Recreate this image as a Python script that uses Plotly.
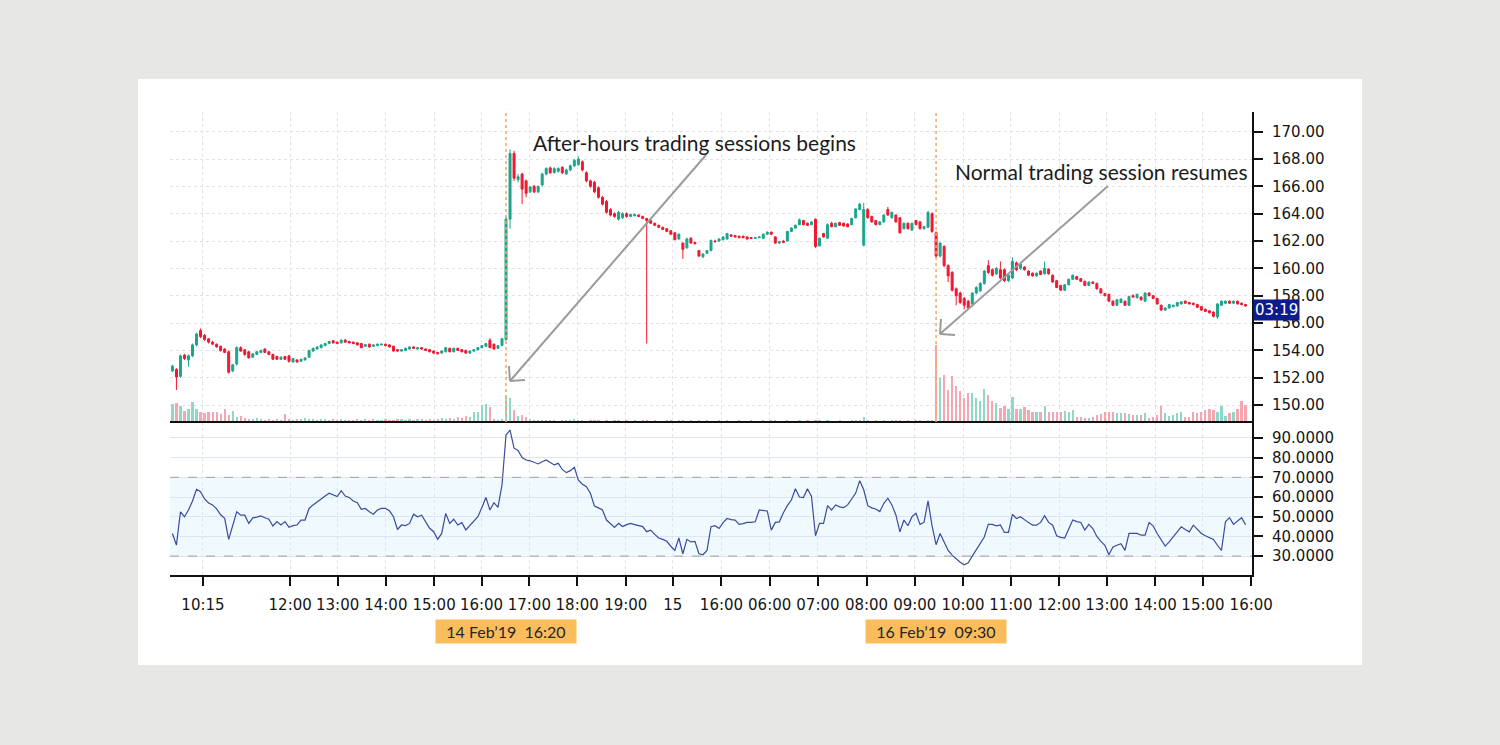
import math
import plotly.graph_objects as go

# ---------------- data ----------------
open_ = [
    152.5, 152.6, 152.1, 153.65, 153.3, 153.6, 154.4, 155.45, 155.1, 154.85,
    154.6, 154.45, 154.3, 154.1, 153.9, 152.5, 153.0, 154.2, 154.05, 153.9,
    153.5, 153.7, 153.85, 154.1, 153.9, 153.7, 153.55, 153.35, 153.55, 153.6,
    153.15, 153.3, 153.2, 153.3, 153.5, 153.95, 154.1, 154.2, 154.35, 154.5,
    154.7, 154.6, 154.55, 154.75, 154.65, 154.6, 154.55, 154.5, 154.3, 154.45,
    154.3, 154.35, 154.4, 154.45, 154.4, 154.3, 154.05, 153.95, 154.0, 154.1,
    154.25, 154.1, 154.2, 154.1, 154.05, 153.95, 153.85, 153.8, 153.9, 154.15,
    153.9, 154.15, 154.05, 154.0, 153.8, 153.95, 154.05, 154.2, 154.3, 154.75,
    154.45, 154.15, 154.35, 154.8, 163.6, 168.4, 166.5, 166.9, 166.4, 165.6,
    166.0, 165.6, 166.1, 166.9, 167.35, 167.0, 167.1, 167.4, 166.9, 167.2,
    167.5, 167.6, 167.8, 167.0, 166.4, 166.3, 165.9, 165.2, 164.9, 164.3,
    164.0, 163.6, 163.7, 164.0, 163.8, 163.85, 163.9, 163.8, 163.65, 163.5,
    163.3, 163.15, 163.0, 162.9, 162.75, 162.6, 162.15, 161.85, 161.5, 162.2,
    161.9, 161.3, 160.85, 161.1, 161.3, 162.0, 162.0, 162.1, 162.15, 162.45,
    162.4, 162.35, 162.35, 162.3, 162.25, 162.2, 162.25, 162.2, 162.5, 162.65,
    162.3, 161.85, 162.0, 162.0, 162.7, 162.95, 163.2, 163.5, 163.3, 163.2,
    163.6, 161.65, 162.55, 162.2, 163.3, 163.05, 163.35, 163.3, 163.25, 163.2,
    163.7, 164.3, 161.7, 164.3, 163.8, 163.5, 163.2, 163.4, 164.3, 163.7,
    163.9, 163.7, 162.9, 163.3, 162.8, 163.5, 163.4, 162.9, 163.0, 164.0,
    162.6, 160.9, 161.6, 160.2, 159.7, 158.5, 158.2, 157.8, 157.6, 157.4,
    158.2, 158.35, 158.9, 160.2, 159.9, 159.6, 159.9, 159.9, 159.1, 159.3,
    160.4, 160.0, 160.1, 159.8, 159.65, 159.45, 159.8, 159.6, 159.95, 159.5,
    159.1, 158.75, 158.4, 158.8, 159.2, 159.4, 159.25, 159.05, 158.75, 159.0,
    158.9, 158.5, 158.15, 158.1, 157.6, 157.3, 157.5, 157.6, 157.3, 158.0,
    157.85, 157.9, 157.6, 158.2, 158.0, 157.8, 157.3, 156.95, 157.1, 157.2,
    157.25, 157.4, 157.6, 157.5, 157.45, 157.35, 157.2, 157.0, 156.9, 156.8,
    156.45, 157.3, 157.45, 157.6, 157.45, 157.6, 157.45, 157.35,
]
high = [
    152.95, 152.7, 153.7, 153.75, 153.7, 154.5, 155.3, 155.6, 155.2, 154.9,
    154.7, 154.5, 154.35, 154.15, 154.0, 153.0, 154.3, 154.3, 154.1, 153.95,
    153.8, 153.95, 154.05, 154.15, 153.95, 153.75, 153.6, 153.55, 153.6, 153.65,
    153.45, 153.35, 153.4, 153.5, 154.05, 154.2, 154.3, 154.45, 154.55, 154.7,
    154.75, 154.65, 154.8, 154.85, 154.7, 154.65, 154.6, 154.55, 154.45, 154.5,
    154.45, 154.5, 154.5, 154.5, 154.45, 154.35, 154.1, 154.1, 154.2, 154.3,
    154.3, 154.25, 154.25, 154.15, 154.1, 154.0, 153.9, 154.0, 154.25, 154.2,
    154.2, 154.2, 154.1, 154.05, 154.0, 154.1, 154.25, 154.4, 154.55, 154.9,
    154.5, 154.4, 154.9, 163.8, 168.7, 168.6, 166.9, 167.0, 166.5, 166.0,
    166.1, 166.05, 167.0, 167.4, 167.45, 167.4, 167.4, 167.45, 167.3, 167.6,
    168.0, 168.2, 167.9, 167.1, 166.5, 166.4, 166.0, 165.3, 165.0, 164.4,
    164.1, 164.2, 164.1, 164.1, 164.0, 164.0, 163.95, 163.85, 163.7, 163.55,
    163.35, 163.2, 163.05, 162.95, 162.8, 162.65, 162.55, 161.9, 162.25, 162.3,
    161.95, 161.35, 161.1, 161.35, 162.1, 162.1, 162.2, 162.35, 162.6, 162.5,
    162.45, 162.4, 162.4, 162.35, 162.3, 162.3, 162.35, 162.55, 162.7, 162.7,
    162.35, 162.0, 162.05, 162.75, 163.0, 163.2, 163.65, 163.55, 163.35, 163.45,
    163.65, 162.25, 162.6, 163.3, 163.4, 163.35, 163.4, 163.35, 163.3, 163.7,
    164.4, 164.8, 164.8, 164.4, 163.85, 163.55, 163.45, 163.95, 164.5, 164.15,
    163.95, 163.75, 163.35, 163.35, 163.35, 163.55, 163.45, 163.1, 164.2, 164.1,
    162.7, 161.9, 161.7, 160.3, 159.8, 158.6, 158.3, 157.9, 157.7, 158.25,
    158.7, 159.0, 159.9, 160.6, 160.0, 160.1, 160.5, 160.0, 159.6, 160.8,
    160.5, 160.35, 160.15, 159.85, 159.7, 159.7, 159.85, 160.5, 160.0, 159.55,
    159.15, 158.8, 158.85, 159.25, 159.55, 159.45, 159.3, 159.1, 159.05, 159.05,
    158.95, 158.55, 158.2, 158.15, 157.65, 157.75, 157.8, 157.65, 158.0, 158.1,
    158.15, 157.95, 158.25, 158.25, 158.05, 157.85, 157.35, 157.15, 157.4, 157.35,
    157.55, 157.6, 157.65, 157.55, 157.5, 157.4, 157.25, 157.05, 156.95, 156.85,
    157.45, 157.65, 157.65, 157.65, 157.65, 157.65, 157.5, 157.4,
]
low = [
    152.4, 151.1, 152.0, 153.3, 152.8, 153.5, 154.3, 154.9, 154.7, 154.5,
    154.4, 154.2, 153.9, 153.8, 152.3, 152.4, 152.9, 153.9, 153.6, 153.4,
    153.45, 153.65, 153.8, 153.8, 153.65, 153.3, 153.3, 153.3, 153.3, 153.1,
    153.1, 153.1, 153.15, 153.25, 153.45, 153.9, 154.05, 154.15, 154.3, 154.45,
    154.5, 154.45, 154.5, 154.55, 154.5, 154.45, 154.35, 154.15, 154.25, 154.2,
    154.25, 154.3, 154.35, 154.3, 154.2, 153.9, 153.9, 153.9, 153.95, 154.05,
    154.1, 154.05, 154.05, 153.95, 153.85, 153.75, 153.7, 153.75, 153.85, 153.85,
    153.85, 153.95, 153.85, 153.75, 153.75, 153.9, 154.0, 154.15, 154.25, 154.15,
    154.05, 154.1, 154.3, 154.7, 162.9, 166.4, 166.3, 164.7, 165.2, 165.5,
    165.5, 165.5, 166.0, 166.8, 166.9, 166.95, 167.0, 166.9, 166.85, 167.1,
    167.4, 167.5, 167.1, 166.3, 165.9, 165.5, 165.1, 164.6, 164.0, 163.8,
    163.7, 163.5, 163.6, 163.7, 163.75, 163.8, 163.75, 163.6, 154.5, 163.25,
    163.1, 162.95, 162.8, 162.65, 162.45, 162.05, 162.1, 160.7, 161.45, 161.8,
    161.75, 160.85, 160.75, 161.05, 161.25, 161.9, 161.95, 162.05, 162.1, 162.3,
    162.25, 162.2, 162.2, 162.1, 162.15, 162.15, 162.2, 162.15, 162.45, 162.45,
    161.8, 161.8, 161.85, 161.95, 162.65, 162.9, 163.15, 163.15, 163.1, 163.15,
    161.5, 161.6, 162.25, 162.15, 163.0, 163.0, 163.1, 163.05, 163.0, 163.15,
    163.65, 164.25, 161.6, 163.65, 163.35, 163.15, 163.15, 163.35, 163.85, 163.65,
    163.35, 162.55, 162.85, 162.85, 162.75, 163.15, 162.85, 162.85, 162.95, 162.6,
    160.8, 160.8, 160.1, 159.0, 158.3, 157.3, 157.4, 157.0, 157.0, 157.2,
    158.1, 158.3, 158.8, 159.6, 159.4, 159.5, 159.2, 159.0, 159.0, 159.2,
    159.8, 159.9, 159.85, 159.45, 159.4, 159.4, 159.5, 159.55, 159.55, 158.95,
    158.55, 158.35, 158.35, 158.75, 159.15, 159.15, 159.0, 158.7, 158.7, 158.85,
    158.45, 158.15, 157.95, 157.55, 157.25, 157.25, 157.45, 157.25, 157.25, 157.85,
    157.8, 157.65, 157.55, 157.95, 157.75, 157.35, 156.9, 156.9, 157.05, 157.15,
    157.2, 157.35, 157.4, 157.35, 157.3, 157.1, 156.9, 156.8, 156.7, 156.4,
    156.3, 157.25, 157.4, 157.4, 157.4, 157.35, 157.3, 157.2,
]
close = [
    152.85, 152.05, 153.6, 153.4, 153.6, 154.4, 155.2, 155.0, 154.8, 154.6,
    154.45, 154.25, 154.0, 153.85, 152.4, 152.95, 154.2, 153.95, 153.7, 153.45,
    153.75, 153.9, 154.0, 153.85, 153.7, 153.35, 153.35, 153.5, 153.35, 153.2,
    153.4, 153.15, 153.35, 153.45, 154.0, 154.15, 154.25, 154.4, 154.5, 154.65,
    154.55, 154.5, 154.75, 154.6, 154.55, 154.5, 154.4, 154.2, 154.42, 154.25,
    154.4, 154.45, 154.45, 154.35, 154.25, 153.95, 153.95, 154.05, 154.15, 154.25,
    154.15, 154.2, 154.1, 154.0, 153.9, 153.8, 153.75, 153.95, 154.2, 153.9,
    154.15, 154.0, 153.9, 153.8, 153.95, 154.05, 154.2, 154.35, 154.5, 154.2,
    154.1, 154.35, 154.85, 163.6, 168.4, 166.6, 166.7, 165.8, 165.5, 165.95,
    165.6, 166.0, 166.9, 167.3, 167.0, 167.3, 167.3, 167.0, 167.2, 167.5,
    167.9, 168.0, 167.2, 166.4, 166.0, 165.6, 165.2, 164.7, 164.1, 163.9,
    163.8, 164.1, 164.0, 163.8, 163.95, 163.95, 163.8, 163.65, 163.5, 163.3,
    163.15, 163.0, 162.85, 162.7, 162.5, 162.1, 162.5, 161.4, 162.15, 161.85,
    161.8, 160.9, 161.05, 161.3, 162.05, 161.95, 162.15, 162.3, 162.55, 162.35,
    162.3, 162.25, 162.25, 162.15, 162.2, 162.25, 162.3, 162.5, 162.65, 162.5,
    161.85, 161.95, 161.9, 162.7, 162.95, 163.15, 163.55, 163.2, 163.15, 163.4,
    161.6, 162.2, 162.3, 163.2, 163.05, 163.3, 163.15, 163.1, 163.05, 163.65,
    164.35, 164.7, 164.3, 163.7, 163.4, 163.2, 163.4, 163.9, 163.9, 164.1,
    163.4, 162.6, 163.3, 162.9, 163.3, 163.2, 162.9, 163.05, 164.1, 162.7,
    160.9, 161.85, 160.2, 159.45, 158.4, 158.0, 157.5, 157.3, 157.1, 158.2,
    158.6, 158.9, 159.8, 159.7, 159.5, 160.0, 159.3, 159.1, 159.5, 160.5,
    159.9, 160.3, 159.9, 159.5, 159.45, 159.65, 159.55, 160.0, 159.6, 159.0,
    158.6, 158.4, 158.8, 159.2, 159.5, 159.2, 159.05, 158.75, 159.0, 158.9,
    158.5, 158.2, 158.0, 157.6, 157.3, 157.7, 157.75, 157.3, 157.95, 157.9,
    158.1, 157.7, 158.2, 158.0, 157.8, 157.4, 156.95, 157.1, 157.35, 157.3,
    157.5, 157.55, 157.45, 157.4, 157.35, 157.15, 156.95, 156.85, 156.75, 156.5,
    157.4, 157.6, 157.6, 157.45, 157.6, 157.4, 157.35, 157.25,
]
volume = [
    57, 60, 49, 35, 41, 63, 41, 31, 28, 30, 30, 31, 25, 41, 22, 35, 17, 20, 12,
    10, 8, 12, 9, 6, 8, 7, 10, 6, 26, 9, 7, 10, 8, 12, 9, 8, 7, 9, 10, 7, 8, 6,
    8, 6, 7, 5, 9, 6, 8, 7, 10, 6, 5, 8, 6, 7, 9, 8, 6, 10, 7, 8, 9, 6, 8, 7, 10,
    12, 9, 14, 11, 16, 12, 20, 17,
    30, 32, 54, 57, 48, 8, 6, 10, 81, 76, 38,
    20, 22, 15, 8, 6, 5, 4, 6, 5, 4, 3, 5, 4, 6, 8, 5, 4, 3, 5, 4,
    6, 3, 4, 3, 5, 4, 3, 4, 3, 5, 3, 4, 6, 3, 4, 3, 3, 4, 5, 3,
    4, 6, 3, 4, 3, 5, 3, 4, 3, 3, 4, 3, 5, 3, 3, 4, 3, 3, 4, 3,
    3, 4, 3, 5, 4, 3, 3, 4, 3, 3, 5, 3, 4, 3, 6, 4, 3, 4, 3, 3,
    4, 3, 3, 4, 5, 6, 16, 4, 3, 4, 3, 4, 3, 5, 4, 6, 3, 4, 3, 5,
    4, 3, 6, 5,
    241, 137, 147, 102, 145, 113, 97, 76, 92, 90, 76, 65, 105, 86, 65, 60, 44,
    51, 41, 79, 41, 41, 47, 38, 33, 33, 30, 49, 33, 30, 32, 33, 36, 33, 38, 17,
    15, 12, 14, 15,
    22, 26, 33, 30, 33, 27, 27, 27, 25, 22, 22, 22, 27, 12, 17, 22, 49, 28, 19,
    22, 27, 33, 17, 17, 33, 27, 30, 38, 40, 38, 33, 51, 19, 27, 33, 40, 65, 54,
]
rsi = [
    41.5, 35.6, 52.5, 50, 53.4, 58, 63.9, 62.7, 59, 57,
    56, 54, 51, 49.2, 38.5, 46, 52.5, 50.8, 50.8, 46.6,
    49.4, 49.8, 50.4, 49.5, 48.7, 45.3, 47.5, 45.8, 47.5, 44.6,
    45.5, 45.8, 48.3, 48.3, 54.2, 56, 57.6, 59, 60.5, 61.9,
    61, 60.2, 63.2, 60.5, 59.8, 58, 57.1, 53.7, 54.2, 52.5,
    51.3, 53.4, 54.2, 54.2, 53.0, 50, 43.5, 45.8, 45.5, 46.6,
    51.3, 50, 50.8, 47.5, 44.1, 42.4, 38.5, 41.5, 51.7, 46.6,
    48.7, 45.8, 47, 43.3, 45.5, 47.5, 50, 54.7, 59.8, 53.4,
    57.1, 54.7, 66.1, 91.5, 94.0, 84.8, 83.7, 80, 78.8, 78.4,
    77.5, 76.8, 77.9, 78.8, 77.5, 76.3, 77.1, 74, 72.4, 73.4,
    75.1, 68.6, 66.5, 65.2, 61.9, 55.4, 54.5, 53.4, 48.3, 46.5,
    44.6, 46.6, 45, 46, 46.6, 46, 45.5, 45, 42.4, 43.2,
    41, 39.2, 38.5, 37.5, 35, 32.9, 39.2, 31.2, 38.5, 37.2,
    37.5, 31.2, 30.7, 32.9, 44.9, 45.4, 44, 47, 49.1, 48.5,
    48.3, 46.1, 46.5, 47.1, 47.1, 47.4, 53.4, 53.2, 52.9, 43.2,
    47.1, 47.4, 52, 55.6, 58.5, 64.2, 60, 59.7, 64.2, 60.3,
    40.3, 46.6, 46.6, 55.6, 53.4, 56, 55, 54.6, 56, 59,
    62, 68.3, 63.7, 55.6, 54.5, 53.9, 52.6, 56.8, 59.4, 56,
    50.9, 42.3, 48.3, 45.4, 50, 51.7, 46.1, 47.1, 58, 45.4,
    35.8, 41.5, 37, 32.9, 30.5, 28.6, 26.9, 25.6, 26.6, 30,
    33.4, 36.8, 39.7, 46.1, 46.1, 45.4, 45.8, 42, 42, 51.2,
    49.1, 50, 48.3, 47, 45.7, 45.7, 47.1, 50.5, 47.1, 45.7,
    40.3, 39.5, 39.2, 44, 48.3, 47.5, 47.1, 43.2, 46.1, 44,
    40, 37.5, 35.5, 30.7, 34.6, 35.5, 36.3, 32.9, 41.5, 41.5,
    41.5, 40.6, 40.6, 47.1, 45.4, 41.5, 38, 35.1, 37.2, 39.7,
    42, 44.9, 43.5, 42.3, 45.7, 43.5, 41.5, 40.3, 39.5, 38.5,
    35.5, 32.9, 47.4, 49.5, 46.1, 48, 49.5, 46,
]
tick_pos = [7.6, 29.3, 41.1, 53.1, 65.1, 76.9, 88.8, 100.7, 112.8, 124.5, 136.6,
            148.6, 160.6, 172.7, 184.7, 196.7, 208.6, 220.6, 232.5, 244.5, 256.4, 268.4]
tick_text = ["10:15", "12:00", "13:00", "14:00", "15:00", "16:00", "17:00", "18:00",
             "19:00", "15", "16:00", "06:00", "07:00", "08:00", "09:00", "10:00",
             "11:00", "12:00", "13:00", "14:00", "15:00", "16:00"]
price_ticks = [150, 152, 154, 156, 158, 160, 162, 164, 166, 168, 170]
rsi_ticks = [30, 40, 50, 60, 70, 80, 90]
rsi_band = [30, 70]
session_idx = [83, 190]
session_labels = ["14 Feb\u201919  16:20", "16 Feb\u201919  09:30"]
notes = ["After-hours trading sessions begins", "Normal trading session resumes"]
clock_label = "03:19"

# ---------------- layout helpers (pixel -> paper) ----------------
L, R, T, B = 170, 1252, 112, 575
def px(x):
    return (x - L) / (R - L)
def py(y):
    return (B - y) / (B - T)
split = py(422)

UP, DOWN = "#1ba58c", "#f2172f"
UPV, DOWNV = "#8fd7c7", "#f7a6b1"
TICKFONT = dict(family="DejaVu Sans", size=15, color="#151515")

idx = list(range(len(close)))
vol_x = list(range(len(volume)))
vol_colors = [UPV if close[i] >= open_[i] else DOWNV for i in vol_x]

fig = go.Figure()
fig.add_trace(go.Bar(x=vol_x, y=volume, marker=dict(color=vol_colors, line=dict(width=0)),
                     width=0.55, xaxis="x", yaxis="y3", showlegend=False, hoverinfo="skip"))
fig.add_trace(go.Candlestick(
    x=idx, open=open_, high=high, low=low, close=close,
    increasing=dict(line=dict(color=UP, width=1), fillcolor=UP),
    decreasing=dict(line=dict(color=DOWN, width=1), fillcolor=DOWN),
    whiskerwidth=0, xaxis="x", yaxis="y", showlegend=False))
fig.add_trace(go.Scatter(x=list(range(len(rsi))), y=rsi, mode="lines",
                         line=dict(color="#3a4c9c", width=1.2),
                         xaxis="x2", yaxis="y2", showlegend=False))

xr = [-0.6, 268.6]
grid = dict(showgrid=True, gridcolor="#e0e2ea", griddash="dot", gridwidth=1, zeroline=False)
fig.update_layout(
    width=1500, height=745,
    margin=dict(l=L, r=1500 - R, t=T, b=745 - B),
    paper_bgcolor="#e7e7e5", plot_bgcolor="rgba(0,0,0,0)",
    bargap=0,
    xaxis=dict(domain=[0, 1], range=xr, anchor="y", tickvals=tick_pos, showticklabels=False,
               ticks="", rangeslider=dict(visible=False), **grid),
    xaxis2=dict(domain=[0, 1], range=xr, anchor="y2", tickvals=tick_pos, ticktext=tick_text,
                ticks="outside", ticklen=9, tickwidth=2, tickcolor="#111",
                showline=True, linecolor="#111", linewidth=2, tickfont=TICKFONT,
                ticklabelstandoff=6, **grid),
    yaxis=dict(domain=[split, 1], range=[148.76, 171.44], side="right", anchor="x",
               tickvals=price_ticks, tickformat=".2f", ticks="outside", ticklen=9,
               tickwidth=2, tickcolor="#111", showline=True, linecolor="#111",
               linewidth=2, tickfont=TICKFONT, ticklabelstandoff=6, **grid),
    yaxis2=dict(domain=[0, split], range=[20.4, 98.1], side="right", anchor="x2",
                tickvals=rsi_ticks, tickformat=".4f", ticks="outside", ticklen=9,
                tickwidth=2, tickcolor="#111", showline=True, linecolor="#111",
                linewidth=2, tickfont=TICKFONT, ticklabelstandoff=6,
                showgrid=True, gridcolor="#dbe6f2", gridwidth=1, zeroline=False),
    yaxis3=dict(overlaying="y", range=[0, 976], visible=False, anchor="x"),
)

shapes = []
# white card
shapes.append(dict(type="rect", xref="paper", yref="paper", x0=px(138), x1=px(1362),
                   y0=py(665), y1=py(79), fillcolor="white", line=dict(width=0), layer="below"))
# RSI band + guide lines
shapes.append(dict(type="rect", xref="paper", yref="y2", x0=0, x1=1, y0=rsi_band[0], y1=rsi_band[1],
                   fillcolor="rgba(190,228,250,0.24)", line=dict(width=0), layer="below"))
for v in rsi_band:
    shapes.append(dict(type="line", xref="paper", yref="y2", x0=0, x1=1, y0=v, y1=v,
                       line=dict(color="#a0a0a0", width=1, dash="dash")))
# panel separator
shapes.append(dict(type="line", xref="paper", yref="paper", x0=0, x1=1, y0=split, y1=split,
                   line=dict(color="#111", width=2)))
# session markers
for s in session_idx:
    shapes.append(dict(type="line", xref="x", yref="paper", x0=s, x1=s, y0=split, y1=1.005,
                       line=dict(color="#f5a862", width=1.5, dash="dot")))

# arrows (tail -> tip, in pixels)
def arrow(tail, tip, arm=15, spread=45):
    out = []
    out.append(dict(type="line", xref="paper", yref="paper", x0=px(tail[0]), y0=py(tail[1]),
                    x1=px(tip[0]), y1=py(tip[1]), line=dict(color="#9b9b9b", width=2)))
    ang = math.atan2(tail[1] - tip[1], tail[0] - tip[0])
    for d in (spread, -spread):
        a = ang + math.radians(d)
        ex, ey = tip[0] + arm * math.cos(a), tip[1] + arm * math.sin(a)
        out.append(dict(type="line", xref="paper", yref="paper", x0=px(tip[0]), y0=py(tip[1]),
                        x1=px(ex), y1=py(ey), line=dict(color="#9b9b9b", width=2)))
    return out

shapes += arrow((706, 155), (510, 381))
shapes += arrow((1108, 186), (940, 334))
fig.update_layout(shapes=shapes)

ann = []
ann.append(dict(text=notes[0], xref="paper", yref="paper", x=px(531), y=py(142),
                xanchor="left", yanchor="middle", showarrow=False,
                font=dict(family="Lato", size=21, color="#1c1c1c")))
ann.append(dict(text=notes[1], xref="paper", yref="paper", x=px(953), y=py(171),
                xanchor="left", yanchor="middle", showarrow=False,
                font=dict(family="Lato", size=21, color="#1c1c1c")))
for s, lab in zip(session_idx, session_labels):
    ann.append(dict(text=lab, xref="x2", yref="paper", x=s, y=py(631),
                    xanchor="center", yanchor="middle", showarrow=False,
                    bgcolor="#fbbd5c", width=134, height=17, borderpad=3,
                    font=dict(family="Lato", size=16, color="#262626")))
ann.append(dict(text=clock_label, xref="paper", yref="paper", x=px(1253), y=py(310),
                xanchor="left", yanchor="middle", showarrow=False,
                bgcolor="#0c1c8c", borderpad=1,
                font=dict(family="DejaVu Sans", size=15, color="white")))
fig.update_layout(annotations=ann)

fig.write_html("out.html")
